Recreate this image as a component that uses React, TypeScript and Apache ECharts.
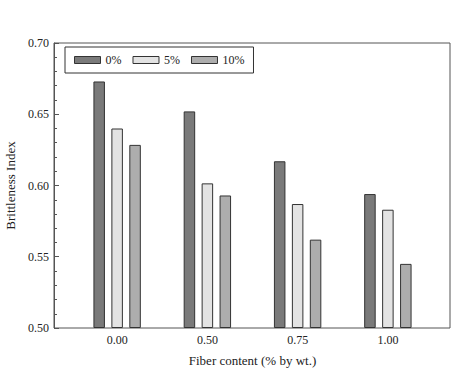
import React, { useEffect, useRef } from "react";
import * as echarts from "echarts";

const categories = ["0.00", "0.50", "0.75", "1.00"];
const seriesNames = ["0%", "5%", "10%"];
const values0 = [0.673, 0.652, 0.617, 0.594];
const values5 = [0.64, 0.6015, 0.587, 0.583];
const values10 = [0.6285, 0.593, 0.562, 0.545];
const colors = ["#7a7a7a", "#e3e3e3", "#adadad"];

const FONT = "Liberation Serif";

export default function App() {
  const ref = useRef<HTMLDivElement>(null);
  useEffect(() => {
    if (!ref.current) return;
    const chart = echarts.init(ref.current, undefined, { renderer: "svg" });
    const data = [values0, values5, values10];
    chart.setOption({
      animation: false,
      backgroundColor: "#ffffff",
      textStyle: { fontFamily: FONT, color: "#222" },
      grid: [
        { left: 72, top: 43, width: 361, height: 285, outerBoundsMode: "none", containLabel: false },
        {
          left: 54,
          top: 43,
          width: 396,
          height: 285,
          outerBoundsMode: "none",
          containLabel: false,
          show: true,
          borderColor: "#555",
          borderWidth: 1,
          backgroundColor: "transparent",
        },
      ],
      legend: {
        data: seriesNames,
        left: 65,
        top: 47,
        orient: "horizontal",
        padding: [7, 9],
        itemGap: 11,
        itemWidth: 26,
        itemHeight: 7,
        borderColor: "#333",
        borderWidth: 1,
        icon: "rect",
        textStyle: { fontFamily: FONT, fontSize: 12, color: "#222" },
        itemStyle: { borderColor: "#333", borderWidth: 1 },
      },
      xAxis: [
        {
          type: "category",
          gridIndex: 0,
          data: categories,
          axisLine: { show: false, onZero: false },
          axisTick: { show: false },
          axisLabel: { fontFamily: FONT, fontSize: 12, color: "#222", margin: 6 },
          name: "Fiber content (% by wt.)",
          nameLocation: "middle",
          nameGap: 26,
          nameTextStyle: { fontFamily: FONT, fontSize: 13, color: "#222" },
        },
        { type: "value", gridIndex: 1, show: false, min: 0, max: 1 },
      ],
      yAxis: [
        { type: "value", gridIndex: 0, min: 0.5, max: 0.7, startValue: 0.5, show: false },
        {
          type: "value",
          gridIndex: 1,
          min: 0.5,
          max: 0.7,
          interval: 0.05,
          axisLine: { show: true, lineStyle: { color: "#555", width: 1 } },
          axisTick: { show: true, inside: true, length: 5, lineStyle: { color: "#555" } },
          minorTick: { show: true, splitNumber: 5, length: 3, lineStyle: { color: "#555" } },
          splitLine: { show: false },
          axisLabel: {
            fontFamily: FONT,
            fontSize: 12,
            color: "#222",
            margin: 5,
            formatter: (v: number) => v.toFixed(2),
          },
          name: "Brittleness Index",
          nameLocation: "middle",
          nameGap: 34,
          nameTextStyle: { fontFamily: FONT, fontSize: 13, color: "#222" },
        },
      ],
      series: seriesNames.map((name, i) => ({
        name,
        type: "bar",
        xAxisIndex: 0,
        yAxisIndex: 0,
        data: data[i],
        barWidth: 11.5,
        barGap: "56%",
        itemStyle: { color: colors[i], borderColor: "#333", borderWidth: 1 },
      })),
    });
    return () => chart.dispose();
  }, []);
  return (
    <div
      ref={ref}
      style={{ position: "fixed", left: 0, top: 0, width: 474, height: 375 }}
    />
  );
}
